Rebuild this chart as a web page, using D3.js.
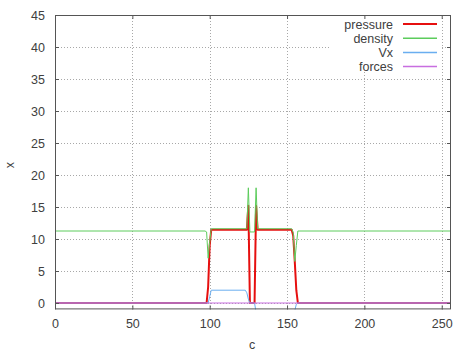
<!DOCTYPE html>
<html>
<head>
<meta charset="utf-8">
<script src="https://cdn.jsdelivr.net/npm/d3@7"></script>
<style>
  body { margin: 0; background: #fff; }
  svg { display: block; font-family: "Liberation Sans", Arial, sans-serif; }
</style>
</head>
<body>
<svg width="474" height="355"></svg>
<script>
// points: [cell, value]
const pressure = [[0,0],[98,0],[99,2.5],[100,9],[101,11.45],[124,11.45],[125,15.2],[126,0],[129,0],[130,15.2],[131,11.45],
                  [153,11.45],[154,10.5],[155,6.5],[156,2],[157,0],[256,0]];
const density  = [[0,11.25],[97,11.25],[98,11.1],[99,7.0],[100,9.5],[101,11.6],[124,11.6],[125,18],[126,11.1],[129,11.1],
                  [130,18],[131,11.6],[153,11.6],[154,11],[155,6.5],[156,9],[157,11.25],[256,11.25]];
const vx       = [[0,0],[99,0],[100,1.0],[101,2.0],[123,2.0],[124,1.6],[125,0.6],[126,0],[129,0],[130,-1.5],[131,-2],
                  [154,-2],[155,-1.2],[156,-0.2],[157,0],[256,0]];
const forces   = [[0,0],[256,0]];

const seriesNames = ["pressure", "density", "Vx", "forces"];
const seriesColors = ["#e60f0f", "#5ccc5c", "#6aaef0", "#c86ee0"];
const seriesWidths = [2, 1, 1, 1];

const xTicks = [0, 50, 100, 150, 200, 250];
const yTicks = [0, 5, 10, 15, 20, 25, 30, 35, 40, 45];

const svg = d3.select("svg");
const area = { left: 55, right: 451, top: 15, bottom: 309.4 };

const scX = d3.scaleLinear().domain([0, 256]).range([area.left, area.right]);
const scY = d3.scaleLinear().domain([-1, 45]).range([area.bottom, area.top]);

// grid
const grid = svg.append("g")
    .attr("stroke", "#a8a8a8")
    .attr("stroke-width", 1)
    .attr("stroke-dasharray", "1,2");
grid.selectAll(".gx").data(xTicks.filter(d => d > 0))
    .enter().append("line")
    .attr("x1", d => Math.round(scX(d)) + 0.5).attr("x2", d => Math.round(scX(d)) + 0.5)
    .attr("y1", area.top).attr("y2", area.bottom);
grid.selectAll(".gy").data(yTicks.filter(d => d < 45))
    .enter().append("line")
    .attr("x1", area.left).attr("x2", area.right)
    .attr("y1", d => Math.round(scY(d)) + 0.5).attr("y2", d => Math.round(scY(d)) + 0.5);

// key area hides grid
svg.append("rect")
    .attr("x", 331).attr("y", area.top + 1)
    .attr("width", 109).attr("height", 56)
    .attr("fill", "#fff");

// curves
svg.append("clipPath").attr("id", "clip")
    .append("rect")
    .attr("x", area.left).attr("y", area.top)
    .attr("width", area.right - area.left).attr("height", area.bottom - area.top);

const line = d3.line().x(d => scX(d[0])).y(d => scY(d[1]));
const allSeries = [pressure, density, vx, forces];

const curves = svg.append("g").attr("clip-path", "url(#clip)");
allSeries.forEach((s, i) => {
    curves.append("path")
        .datum(s)
        .attr("d", line)
        .attr("fill", "none")
        .attr("stroke", seriesColors[i])
        .attr("stroke-width", seriesWidths[i])
        .attr("stroke-linejoin", "round");
});

// axes, ticks inside on all four sides
const tickLen = 4;
const axisBottom = d3.axisBottom(scX).tickValues(xTicks).tickSize(-tickLen).tickPadding(10);
const axisTop = d3.axisTop(scX).tickValues(xTicks).tickSize(-tickLen).tickFormat("");
const axisLeft = d3.axisLeft(scY).tickValues(yTicks).tickSize(-tickLen).tickPadding(10);
const axisRight = d3.axisRight(scY).tickValues(yTicks).tickSize(-tickLen).tickFormat("");

function styleAxis(g) {
    g.select(".domain").remove();
    g.selectAll(".tick line").attr("stroke", "#555");
    g.selectAll(".tick text").attr("fill", "#404040").style("font-size", "12.5px");
}

svg.append("g").attr("transform", `translate(0,${area.bottom})`).call(axisBottom).call(styleAxis);
svg.append("g").attr("transform", `translate(0,${area.top})`).call(axisTop).call(styleAxis);
svg.append("g").attr("transform", `translate(${area.left},0)`).call(axisLeft).call(styleAxis);
svg.append("g").attr("transform", `translate(${area.right},0)`).call(axisRight).call(styleAxis);

// border
svg.append("rect")
    .attr("x", area.left + 0.5).attr("y", area.top + 0.5)
    .attr("width", area.right - area.left - 1).attr("height", area.bottom - area.top - 1)
    .attr("fill", "none")
    .attr("stroke", "#555");

// axis labels
svg.append("text")
    .attr("transform", "translate(14,165) rotate(-90)")
    .attr("text-anchor", "middle")
    .attr("fill", "#404040")
    .style("font-size", "12.5px")
    .text("x");
svg.append("text")
    .attr("x", 252).attr("y", 349)
    .attr("text-anchor", "middle")
    .attr("fill", "#404040")
    .style("font-size", "12.5px")
    .text("c");

// key
const key = svg.append("g");
seriesNames.forEach((name, i) => {
    const y = 24 + i * 14.2;
    key.append("text")
        .attr("x", 393).attr("y", y + 4.5)
        .attr("text-anchor", "end")
        .attr("fill", "#404040")
        .style("font-size", "12.5px")
        .text(name);
    key.append("line")
        .attr("x1", 403).attr("x2", 437)
        .attr("y1", y).attr("y2", y)
        .attr("stroke", seriesColors[i])
        .attr("stroke-width", seriesWidths[i] === 2 ? 2 : 1.5);
});
</script>
</body>
</html>
